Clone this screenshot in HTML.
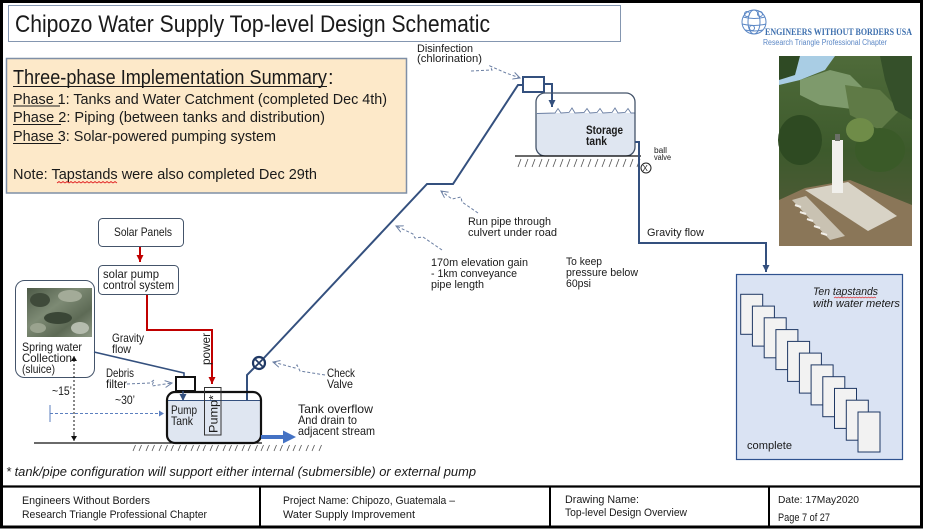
<!DOCTYPE html>
<html>
<head>
<meta charset="utf-8">
<style>
  html,body{margin:0;padding:0;background:#fff;}
  svg{display:block;}
  text{font-family:"Liberation Sans",Arial,sans-serif;fill:#1a1a1a;}
</style>
</head>
<body>
<svg width="926" height="529" viewBox="0 0 926 529" xmlns="http://www.w3.org/2000/svg">
  <defs>
    <marker id="aBlue" markerUnits="userSpaceOnUse" markerWidth="9" markerHeight="9" refX="7" refY="4" orient="auto">
      <path d="M0,0.5 L7,4 L0,7.5 z" fill="#34507e"/>
    </marker>
    <marker id="aRed" markerUnits="userSpaceOnUse" markerWidth="9" markerHeight="9" refX="7" refY="4" orient="auto">
      <path d="M0,0.5 L7,4 L0,7.5 z" fill="#c00000"/>
    </marker>
    <marker id="aBlk" markerUnits="userSpaceOnUse" markerWidth="7" markerHeight="7" refX="5" refY="3" orient="auto">
      <path d="M0,0 L5,3 L0,6 z" fill="#111"/>
    </marker>
    <marker id="aDim" markerUnits="userSpaceOnUse" markerWidth="7" markerHeight="7" refX="5" refY="3" orient="auto">
      <path d="M0,0 L5,3 L0,6 z" fill="#5b7fbf"/>
    </marker>
    <marker id="aOpen" markerUnits="userSpaceOnUse" markerWidth="9" markerHeight="9" refX="7" refY="4" orient="auto">
      <path d="M0,0.5 L7,4 L0,7.5" fill="none" stroke="#6b7fa3" stroke-width="1"/>
    </marker>
    <clipPath id="stClip"><rect x="536" y="93" width="99" height="63" rx="9"/></clipPath>
    <clipPath id="ptClip"><rect x="167" y="392" width="94" height="51" rx="8"/></clipPath>
    <linearGradient id="spring" x1="0" y1="0" x2="1" y2="1">
      <stop offset="0" stop-color="#4d5a47"/>
      <stop offset="0.4" stop-color="#7d8a74"/>
      <stop offset="0.7" stop-color="#5d6a55"/>
      <stop offset="1" stop-color="#8f9a86"/>
    </linearGradient>
    <linearGradient id="photoG" x1="0" y1="0" x2="0" y2="1">
      <stop offset="0" stop-color="#4f6b3a"/>
      <stop offset="0.5" stop-color="#3d5a2c"/>
      <stop offset="0.75" stop-color="#4a5a34"/>
      <stop offset="1" stop-color="#7a6a52"/>
    </linearGradient>
  </defs>

  <!-- outer border -->
  <rect x="1.5" y="1.5" width="920" height="525.5" fill="#fff" stroke="#000" stroke-width="3"/>

  <!-- title box -->
  <rect x="8.5" y="5.5" width="612" height="36" fill="#fff" stroke="#8496b0" stroke-width="1"/>
  <text x="15" y="32" font-size="24" textLength="475" lengthAdjust="spacingAndGlyphs">Chipozo Water Supply Top-level Design Schematic</text>

  <!-- summary box -->
  <rect x="6.5" y="58.5" width="400" height="134.5" fill="#fde9c9" stroke="#7f8fa6" stroke-width="1.5"/>
  <text x="13" y="84" font-size="20" textLength="314" lengthAdjust="spacingAndGlyphs">Three-phase Implementation Summary</text>
  <text x="328" y="84" font-size="20">:</text>
  <line x1="13" y1="86.5" x2="327" y2="86.5" stroke="#1a1a1a" stroke-width="1"/>
  <text x="13" y="104" font-size="15" textLength="374" lengthAdjust="spacingAndGlyphs">Phase 1:  Tanks and Water Catchment (completed Dec 4th)</text>
  <line x1="13" y1="106" x2="60" y2="106" stroke="#1a1a1a" stroke-width="1"/>
  <text x="13" y="122" font-size="15" textLength="312" lengthAdjust="spacingAndGlyphs">Phase 2:  Piping (between tanks and distribution)</text>
  <line x1="13" y1="124.5" x2="61" y2="124.5" stroke="#1a1a1a" stroke-width="1"/>
  <text x="13" y="141" font-size="15" textLength="263" lengthAdjust="spacingAndGlyphs">Phase 3:  Solar-powered pumping system</text>
  <line x1="13" y1="143.5" x2="61" y2="143.5" stroke="#1a1a1a" stroke-width="1"/>
  <text x="13" y="179" font-size="15" textLength="304" lengthAdjust="spacingAndGlyphs">Note:  Tapstands were also completed Dec 29th</text>
  <path d="M57,183 l2,-1.5 l2,1.5 l2,-1.5 l2,1.5 l2,-1.5 l2,1.5 l2,-1.5 l2,1.5 l2,-1.5 l2,1.5 l2,-1.5 l2,1.5 l2,-1.5 l2,1.5 l2,-1.5 l2,1.5 l2,-1.5 l2,1.5 l2,-1.5 l2,1.5 l2,-1.5 l2,1.5 l2,-1.5 l2,1.5 l2,-1.5 l2,1.5 l2,-1.5 l2,1.5 l2,-1.5 l2,1.5" fill="none" stroke="#e02020" stroke-width="0.8"/>

  <!-- logo -->
  <g fill="none" stroke="#5b87c5" stroke-width="1">
    <circle cx="754" cy="22" r="12"/>
    <ellipse cx="754" cy="22" rx="6" ry="12"/>
    <path d="M743,17 Q754,20 765,17 M742,24 Q754,27 766,24 M745,30 Q754,32 763,30"/>
    <circle cx="747" cy="14" r="2.5"/><circle cx="760" cy="14" r="2.5"/><circle cx="752" cy="28" r="2.5"/>
  </g>
  <text x="765" y="35" font-size="9.5" font-weight="bold" style="font-family:'Liberation Serif',serif;fill:#3d6fae" textLength="147" lengthAdjust="spacingAndGlyphs">ENGINEERS WITHOUT BORDERS USA</text>
  <text x="763" y="45" font-size="8" style="fill:#5b87c5" textLength="124" lengthAdjust="spacingAndGlyphs">Research Triangle Professional Chapter</text>

  <!-- tapstand photo -->
  <g>
    <rect x="779" y="56" width="133" height="190" fill="url(#photoG)"/>
    <path d="M779,56 H835 L825,70 L800,80 L779,85 z" fill="#a9cde4"/>
    <path d="M800,80 L830,70 L850,75 L870,95 L860,110 L820,105 L800,95 z" fill="#7e9a6c"/>
    <path d="M845,85 L880,90 L900,110 L880,130 L850,115 z" fill="#5f7a46"/>
    <path d="M779,56 L800,56 L795,75 L779,80 z" fill="#2f4a24"/>
    <path d="M880,56 H912 V120 L895,110 L885,80 z" fill="#35502a"/>
    <ellipse cx="800" cy="140" rx="22" ry="25" fill="#2e4a22"/>
    <ellipse cx="880" cy="150" rx="25" ry="22" fill="#3a5a28"/>
    <ellipse cx="860" cy="130" rx="14" ry="12" fill="#6f8c48"/>
    <path d="M779,200 L805,188 L850,180 L912,205 V246 H779 z" fill="#8a7658"/>
    <path d="M805,190 L848,182 L897,216 L868,231 z" fill="#d8d3c6"/>
    <path d="M792,200 L806,196 L845,236 L830,240 z" fill="#c9c2b2"/>
    <path d="M795,205 l6,2 M800,212 l6,2 M807,219 l6,2 M814,226 l6,2 M821,233 l6,2" stroke="#f2efe8" stroke-width="2"/>
    <rect x="832" y="140" width="11" height="53" fill="#f1f0ec"/>
    <rect x="835" y="134" width="5" height="7" fill="#6a6f66"/>
  </g>

  <!-- Disinfection -->
  <text x="417" y="52" font-size="11" textLength="56" lengthAdjust="spacingAndGlyphs">Disinfection</text>
  <text x="417" y="62" font-size="11" textLength="65" lengthAdjust="spacingAndGlyphs">(chlorination)</text>
  <polyline points="471,71 492,70 490,66 506,73 520,78" fill="none" stroke="#6b7fa3" stroke-width="1" stroke-dasharray="3,2" marker-end="url(#aOpen)"/>

  <!-- main pipe -->
  <polyline points="221,422 247,422 247,375 255,367" fill="none" stroke="#34507e" stroke-width="2"/>
  <polyline points="263,359 427,184 453,184 518,85 523,85" fill="none" stroke="#34507e" stroke-width="2"/>
  <!-- check valve -->
  <circle cx="259" cy="363" r="6" fill="#fff" stroke="#1f3864" stroke-width="2.2"/>
  <path d="M255.5,359.5 L262.5,366.5 M262.5,359.5 L255.5,366.5" stroke="#1f3864" stroke-width="1.6"/>

  <!-- chlorinator box -->
  <rect x="523" y="77" width="21" height="15" fill="#fff" stroke="#34507e" stroke-width="2"/>
  <polyline points="544,84 552,84 552,107" fill="none" stroke="#34507e" stroke-width="2" marker-end="url(#aBlue)"/>

  <!-- storage tank -->
  <g clip-path="url(#stClip)">
    <rect x="536" y="113" width="99" height="43" fill="#dfe6f1"/>
  </g>
  <path d="M537,113.5 L555,113 L558,108.5 L561,113 L569,112.5 L572,108 L575,113 L584,112.5 L587,108.5 L590,113 L597,112.5 L600,108.5 L603,113 L612,112.5 L615,108 L618,113 L625,112.5 L628,108.5 L631,113 L635,113" fill="none" stroke="#6b7fa3" stroke-width="0.9"/>
  <rect x="536" y="93" width="99" height="63" rx="9" fill="none" stroke="#44546a" stroke-width="1.3"/>
  <text x="586" y="134" font-size="12" font-weight="bold" textLength="37" lengthAdjust="spacingAndGlyphs">Storage</text>
  <text x="586" y="145" font-size="12" font-weight="bold" textLength="21" lengthAdjust="spacingAndGlyphs">tank</text>
  <line x1="515" y1="156" x2="641" y2="156" stroke="#111" stroke-width="1.2"/>
  <path d="M518,167 l3,-8 M525,167 l3,-8 M532,167 l3,-8 M539,167 l3,-8 M546,167 l3,-8 M553,167 l3,-8 M560,167 l3,-8 M567,167 l3,-8 M574,167 l3,-8 M581,167 l3,-8 M588,167 l3,-8 M595,167 l3,-8 M602,167 l3,-8 M609,167 l3,-8 M616,167 l3,-8 M623,167 l3,-8 M630,167 l3,-8 M637,167 l3,-8" stroke="#555" stroke-width="0.8"/>

  <!-- outlet / gravity flow -->
  <polyline points="635,142 639,142 639,243 766,243 766,272" fill="none" stroke="#34507e" stroke-width="2" marker-end="url(#aBlue)"/>
  <circle cx="646" cy="168" r="5" fill="#fff" stroke="#222" stroke-width="1"/>
  <text x="642.5" y="171" font-size="8">X</text>
  <text x="654" y="153" font-size="8" textLength="13" lengthAdjust="spacingAndGlyphs">ball</text>
  <text x="654" y="160" font-size="8" textLength="17" lengthAdjust="spacingAndGlyphs">valve</text>
  <text x="647" y="236" font-size="11" textLength="57" lengthAdjust="spacingAndGlyphs">Gravity flow</text>

  <!-- run pipe label -->
  <polyline points="478,213 462,202 461,197 452,199 441,191" fill="none" stroke="#6b7fa3" stroke-width="1" stroke-dasharray="3,2" marker-end="url(#aOpen)"/>
  <text x="468" y="225" font-size="11" textLength="83" lengthAdjust="spacingAndGlyphs">Run pipe through</text>
  <text x="468" y="236" font-size="11" textLength="89" lengthAdjust="spacingAndGlyphs">culvert under road</text>

  <!-- 170m label -->
  <polyline points="442,250 423,237 415,238 413,234 396,226" fill="none" stroke="#6b7fa3" stroke-width="1" stroke-dasharray="3,2" marker-end="url(#aOpen)"/>
  <text x="431" y="266" font-size="11" textLength="97" lengthAdjust="spacingAndGlyphs">170m elevation gain</text>
  <text x="431" y="277" font-size="11" textLength="86" lengthAdjust="spacingAndGlyphs">- 1km conveyance</text>
  <text x="431" y="288" font-size="11" textLength="53" lengthAdjust="spacingAndGlyphs">pipe length</text>

  <text x="566" y="265" font-size="11" textLength="36" lengthAdjust="spacingAndGlyphs">To keep</text>
  <text x="566" y="276" font-size="11" textLength="72" lengthAdjust="spacingAndGlyphs">pressure below</text>
  <text x="566" y="287" font-size="11" textLength="25" lengthAdjust="spacingAndGlyphs">60psi</text>

  <!-- tapstand box -->
  <rect x="736.5" y="274.5" width="166" height="185" fill="#dae3f3" stroke="#2f528f" stroke-width="1.2"/>
  <g fill="#f2f2f2" stroke="#1f3864" stroke-width="1">
    <rect x="740.7" y="294.3" width="22" height="40"/>
    <rect x="752.4" y="306.1" width="22" height="40"/>
    <rect x="764.2" y="317.8" width="22" height="40"/>
    <rect x="775.9" y="329.6" width="22" height="40"/>
    <rect x="787.6" y="341.4" width="22" height="40"/>
    <rect x="799.4" y="353.1" width="22" height="40"/>
    <rect x="811.1" y="364.9" width="22" height="40"/>
    <rect x="822.8" y="376.7" width="22" height="40"/>
    <rect x="834.5" y="388.4" width="22" height="40"/>
    <rect x="846.3" y="400.2" width="22" height="40"/>
    <rect x="858.0" y="412.0" width="22" height="40"/>
  </g>
  <text x="813" y="295" font-size="11" font-style="italic" textLength="65" lengthAdjust="spacingAndGlyphs">Ten tapstands</text>
  <text x="813" y="307" font-size="11" font-style="italic" textLength="87" lengthAdjust="spacingAndGlyphs">with water meters</text>
  <path d="M834,298 l1.5,-1 l1.5,1 l1.5,-1 l1.5,1 l1.5,-1 l1.5,1 l1.5,-1 l1.5,1 l1.5,-1 l1.5,1 l1.5,-1 l1.5,1 l1.5,-1 l1.5,1 l1.5,-1 l1.5,1 l1.5,-1 l1.5,1 l1.5,-1 l1.5,1 l1.5,-1 l1.5,1 l1.5,-1 l1.5,1 l1.5,-1 l1.5,1 l1.5,-1 l1.5,1" fill="none" stroke="#e02020" stroke-width="0.7"/>
  <text x="747" y="449" font-size="11" textLength="45" lengthAdjust="spacingAndGlyphs">complete</text>

  <!-- solar panels -->
  <rect x="98.5" y="218.5" width="85" height="28" rx="4" fill="#fff" stroke="#44546a" stroke-width="1"/>
  <text x="114" y="236" font-size="12" textLength="58" lengthAdjust="spacingAndGlyphs">Solar Panels</text>
  <line x1="140" y1="247" x2="140" y2="262" stroke="#c00000" stroke-width="2" marker-end="url(#aRed)"/>
  <rect x="98.5" y="265.5" width="80" height="29" rx="4" fill="#fff" stroke="#44546a" stroke-width="1"/>
  <text x="103" y="278" font-size="12" textLength="56" lengthAdjust="spacingAndGlyphs">solar pump</text>
  <text x="103" y="289" font-size="12" textLength="71" lengthAdjust="spacingAndGlyphs">control system</text>
  <polyline points="147,295 147,330 212,330 212,384" fill="none" stroke="#c00000" stroke-width="2" marker-end="url(#aRed)"/>
  <text transform="translate(210,365) rotate(-90)" font-size="12" textLength="32" lengthAdjust="spacingAndGlyphs">power</text>

  <!-- spring box -->
  <rect x="15.5" y="280.5" width="79" height="97" rx="9" fill="#fff" stroke="#44546a" stroke-width="1"/>
  <rect x="27" y="288" width="65" height="49" fill="url(#spring)"/>
  <ellipse cx="40" cy="300" rx="10" ry="7" fill="#3f4a3a"/>
  <ellipse cx="70" cy="296" rx="12" ry="6" fill="#a3ab98"/>
  <ellipse cx="58" cy="318" rx="14" ry="6" fill="#3a4636"/>
  <ellipse cx="80" cy="328" rx="9" ry="6" fill="#b5bcae"/>
  <ellipse cx="38" cy="328" rx="8" ry="5" fill="#9aa38f"/>
  <text x="22" y="351" font-size="12" textLength="60" lengthAdjust="spacingAndGlyphs">Spring water</text>
  <text x="22" y="362" font-size="12" textLength="50" lengthAdjust="spacingAndGlyphs">Collection</text>
  <text x="22" y="373" font-size="12" textLength="33" lengthAdjust="spacingAndGlyphs">(sluice)</text>

  <!-- gravity flow pipe to filter -->
  <polyline points="94,352 184,373 184,377" fill="none" stroke="#34507e" stroke-width="1.6"/>
  <text x="112" y="342" font-size="12" textLength="32" lengthAdjust="spacingAndGlyphs">Gravity</text>
  <text x="112" y="353" font-size="12" textLength="19" lengthAdjust="spacingAndGlyphs">flow</text>

  <!-- debris filter -->
  <text x="106" y="377" font-size="12" textLength="28" lengthAdjust="spacingAndGlyphs">Debris</text>
  <text x="106" y="388" font-size="12" textLength="21" lengthAdjust="spacingAndGlyphs">filter</text>
  <polyline points="127,384 150,383 154,380 152,386 172,383" fill="none" stroke="#6b7fa3" stroke-width="1" stroke-dasharray="3,2" marker-end="url(#aOpen)"/>

  <!-- ground left -->
  <line x1="34" y1="443" x2="262" y2="443" stroke="#111" stroke-width="1.2"/>
  <path d="M133,451 l2.5,-6 M139,451 l2.5,-6 M146,451 l2.5,-6 M152,451 l2.5,-6 M159,451 l2.5,-6 M165,451 l2.5,-6 M171,451 l2.5,-6 M178,451 l2.5,-6 M184,451 l2.5,-6 M191,451 l2.5,-6 M197,451 l2.5,-6 M203,451 l2.5,-6 M210,451 l2.5,-6 M216,451 l2.5,-6 M223,451 l2.5,-6 M229,451 l2.5,-6 M235,451 l2.5,-6 M242,451 l2.5,-6 M248,451 l2.5,-6 M255,451 l2.5,-6 M261,451 l2.5,-6 M267,451 l2.5,-6 M274,451 l2.5,-6 M280,451 l2.5,-6 M287,451 l2.5,-6 M293,451 l2.5,-6 M299,451 l2.5,-6 M306,451 l2.5,-6 M312,451 l2.5,-6 M319,451 l2.5,-6" stroke="#555" stroke-width="0.8"/>

  <!-- pump tank -->
  <g clip-path="url(#ptClip)">
    <rect x="167" y="400" width="94" height="43" fill="#dfe6f1"/>
  </g>
  <line x1="168" y1="400.5" x2="260" y2="400.5" stroke="#34507e" stroke-width="1"/>
  <rect x="167" y="392" width="94" height="51" rx="8" fill="none" stroke="#111" stroke-width="2.2"/>
  <rect x="176" y="377" width="19" height="14" fill="#fff" stroke="#111" stroke-width="2"/>
  <line x1="183" y1="391" x2="183" y2="401" stroke="#34507e" stroke-width="1.5" marker-end="url(#aBlue)"/>
  <rect x="204.5" y="387.5" width="16.5" height="47.5" fill="none" stroke="#333" stroke-width="1"/>
  <text transform="translate(217.5,433) rotate(-90)" font-size="12" textLength="38" lengthAdjust="spacingAndGlyphs">Pump*</text>
  <text x="171" y="414" font-size="12" textLength="26" lengthAdjust="spacingAndGlyphs">Pump</text>
  <text x="171" y="425" font-size="12" textLength="22" lengthAdjust="spacingAndGlyphs">Tank</text>

  <!-- overflow arrow -->
  <line x1="261" y1="437" x2="285" y2="437" stroke="#4472c4" stroke-width="4"/>
  <polygon points="283,430.5 296,437 283,443.5" fill="#4472c4"/>
  <text x="298" y="413" font-size="12" textLength="75" lengthAdjust="spacingAndGlyphs">Tank overflow</text>
  <text x="298" y="424" font-size="12" textLength="59" lengthAdjust="spacingAndGlyphs">And drain to</text>
  <text x="298" y="435" font-size="12" textLength="77" lengthAdjust="spacingAndGlyphs">adjacent stream</text>

  <!-- check valve label -->
  <polyline points="325,375 300,371 297,365 295,368 273,362" fill="none" stroke="#6b7fa3" stroke-width="1" stroke-dasharray="3,2" marker-end="url(#aOpen)"/>
  <text x="327" y="377" font-size="12" textLength="28" lengthAdjust="spacingAndGlyphs">Check</text>
  <text x="327" y="388" font-size="12" textLength="26" lengthAdjust="spacingAndGlyphs">Valve</text>

  <!-- dimensions -->
  <line x1="74" y1="360" x2="74" y2="437" stroke="#111" stroke-width="1" stroke-dasharray="2,2"/>
  <line x1="74" y1="362" x2="74" y2="356" stroke="#111" stroke-width="1" marker-end="url(#aBlk)"/>
  <line x1="74" y1="434" x2="74" y2="441" stroke="#111" stroke-width="1" marker-end="url(#aBlk)"/>
  <text x="52" y="395" font-size="12" textLength="20" lengthAdjust="spacingAndGlyphs">~15’</text>
  <line x1="50" y1="405" x2="50" y2="422" stroke="#5b7fbf" stroke-width="1"/>
  <line x1="50" y1="413.5" x2="164" y2="413.5" stroke="#5b7fbf" stroke-width="1" stroke-dasharray="3,2" marker-end="url(#aDim)"/>
  <text x="115" y="404" font-size="12" textLength="20" lengthAdjust="spacingAndGlyphs">~30’</text>

  <!-- footnote -->
  <text x="6" y="476" font-size="13" font-style="italic" textLength="470" lengthAdjust="spacingAndGlyphs">* tank/pipe configuration will support either internal (submersible) or external pump</text>

  <!-- footer -->
  <line x1="1" y1="486.5" x2="922" y2="486.5" stroke="#000" stroke-width="2.2"/>
  <line x1="260" y1="486" x2="260" y2="527" stroke="#000" stroke-width="2"/>
  <line x1="550" y1="486" x2="550" y2="527" stroke="#000" stroke-width="2"/>
  <line x1="769" y1="486" x2="769" y2="527" stroke="#000" stroke-width="2"/>
  <text x="22" y="504" font-size="11" textLength="128" lengthAdjust="spacingAndGlyphs">Engineers Without Borders</text>
  <text x="22" y="518" font-size="11" textLength="185" lengthAdjust="spacingAndGlyphs">Research Triangle Professional Chapter</text>
  <text x="283" y="504" font-size="11" textLength="172" lengthAdjust="spacingAndGlyphs">Project Name:  Chipozo, Guatemala –</text>
  <text x="283" y="518" font-size="11" textLength="132" lengthAdjust="spacingAndGlyphs">Water Supply Improvement</text>
  <text x="565" y="503" font-size="11" textLength="74" lengthAdjust="spacingAndGlyphs">Drawing Name:</text>
  <text x="565" y="516" font-size="11" textLength="122" lengthAdjust="spacingAndGlyphs">Top-level Design Overview</text>
  <text x="778" y="503" font-size="10" textLength="81" lengthAdjust="spacingAndGlyphs">Date:  17May2020</text>
  <text x="778" y="521" font-size="11" textLength="52" lengthAdjust="spacingAndGlyphs">Page 7   of  27</text>
</svg>
</body>
</html>
